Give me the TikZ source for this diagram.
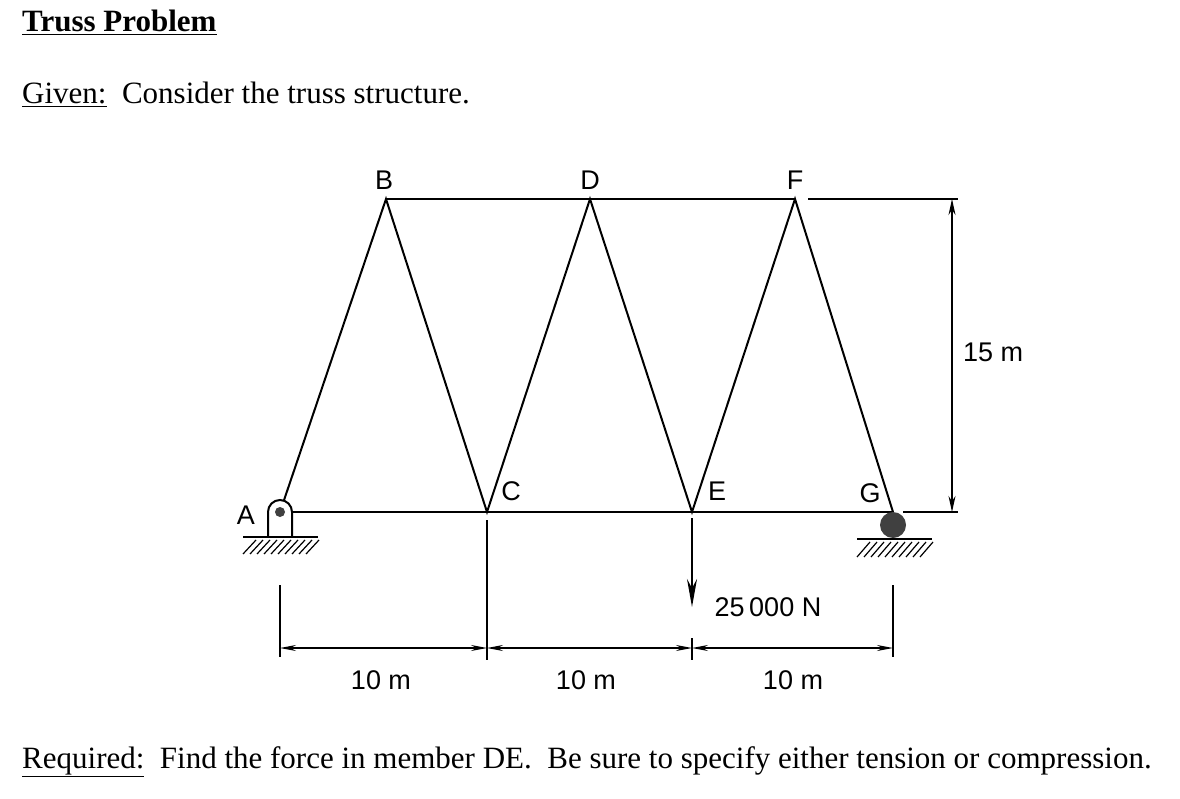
\documentclass[tikz,border=0pt]{standalone}
\usepackage{fontspec}
\setmainfont{Liberation Serif}
\newfontfamily\lab{Liberation Sans}
\usetikzlibrary{patterns,arrows.meta}
\begin{document}
\begin{tikzpicture}[x=1pt,y=-1pt,
 mem/.style={line width=2pt},
 thin/.style={line width=1.2pt},
 lbl/.style={font=\lab\fontsize{27}{30}\selectfont, inner sep=0pt},
 ttl/.style={font=\fontsize{31}{34}\selectfont, anchor=base west, inner sep=0pt}]
\useasboundingbox (0,0) rectangle (1180,799);
\node[ttl] (t1) at (22,32) {\textbf{\underline{Truss Problem}}};
\node[ttl] (t2) at (22,104) {\underline{Given:}\ \ Consider the truss structure.};
\node[ttl] (t3) at (22,768) {\underline{Required:}\ \ Find the force in member DE.\ \ Be sure to specify either tension or compression.};
% joints
\coordinate (A) at (280,512); \coordinate (C) at (487,512); \coordinate (E) at (692,512); \coordinate (G) at (893,512);
\coordinate (B) at (386,199); \coordinate (D) at (590,199); \coordinate (F) at (795,199);
\draw[mem] (A) -- (B) -- (C) -- (D) -- (E) -- (F) -- (G);
\draw[mem] (B) -- (F);
\draw[mem] (292,512) -- (G);
% pin support
\fill[white] (268,537) -- (268,512) arc(180:360:12) -- (292,537) -- cycle;
\draw[mem] (268,537) -- (268,512) arc(180:360:12) -- (292,537);
\fill[black!75] (280,512) circle (5);
\draw[mem] (243,537) -- (318,537);
\foreach \i in {0,...,9} \draw[thin] (243+\i*7,554) -- (256+\i*7,540);
% roller
\fill[black!75] (893,525) circle (13);
\draw[mem] (857,539) -- (932,539);
\foreach \i in {0,...,9} \draw[thin] (857+\i*7,557) -- (870+\i*7,542);
% labels
\node[lbl] (lB) at (384,180) {B};
\node[lbl] (lD) at (590,180) {D};
\node[lbl] (lF) at (795,180) {F};
\node[lbl] (lC) at (511,491) {C};
\node[lbl] (lE) at (717,491) {E};
\node[lbl] (lG) at (870,493) {G};
\node[lbl] (lA) at (246,515) {A};
% vertical dimension
\draw[thin] (808,199) -- (958,199);
\draw[thin] (903,512) -- (958,512);
\coordinate (vt) at (952,199); \coordinate (vb) at (952,512);
\draw[thin,{Stealth[length=16pt,width=7pt]}-{Stealth[length=16pt,width=7pt]}] (vt) -- (vb);
\node[lbl] (l15) at (993,352) {15 m};
% load
\coordinate (Lend) at (692,607);
\draw[line width=2pt,-{Stealth[length=28pt,width=10pt]}] (692,518) -- (Lend);
\node[lbl] (lL) at (768,607) {25\,000 N};
% bottom dims
\draw[thin] (280,585) -- (280,657);
\draw[thin] (487,520) -- (487,660);
\draw[thin] (692,638) -- (692,660);
\draw[thin] (893,585) -- (893,657);
\coordinate (d1) at (280,648); \coordinate (d2) at (487,648); \coordinate (d3) at (692,648); \coordinate (d4) at (893,648);
\tikzset{dd/.style={thin,{Stealth[length=16pt,width=6pt]}-{Stealth[length=16pt,width=6pt]}}}
\draw[dd] (d1) -- (d2);
\draw[dd] (d2) -- (d3);
\draw[dd] (d3) -- (d4);
\node[lbl] (m1) at (381,680) {10 m};
\node[lbl] (m2) at (586,680) {10 m};
\node[lbl] (m3) at (793,680) {10 m};
\end{tikzpicture}
\end{document}
